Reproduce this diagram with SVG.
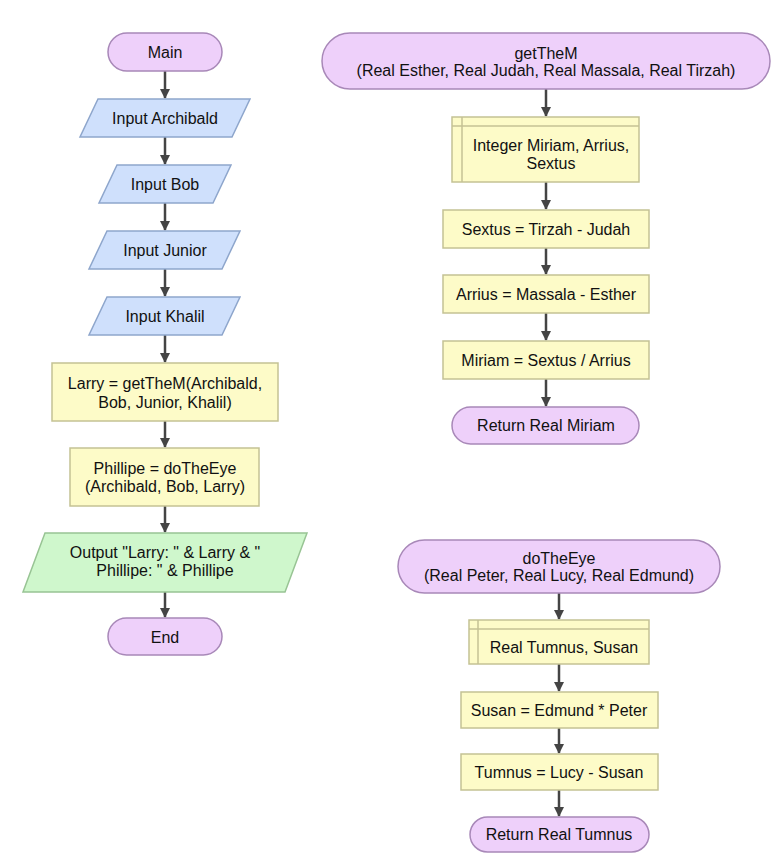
<svg xmlns="http://www.w3.org/2000/svg" width="778" height="868" viewBox="0 0 778 868">
<style>
text{font-family:"Liberation Sans",Arial,sans-serif;font-size:16px;fill:#111;text-anchor:middle;dominant-baseline:central}
.term{fill:#eed0fa;stroke:#a888b8;stroke-width:1.5}
.inp{fill:#cfe0fc;stroke:#8ea6cc;stroke-width:1.5}
.proc{fill:#fdfbc8;stroke:#c4c294;stroke-width:1.5}
.outp{fill:#cff7cc;stroke:#98c494;stroke-width:1.5}
.edge{stroke:#444;stroke-width:2.5;fill:none;marker-end:url(#ah)}
</style>
<defs>
<marker id="ah" viewBox="0 0 10 10" refX="9" refY="5" markerWidth="4" markerHeight="4" orient="auto" markerUnits="strokeWidth">
<path d="M0,0 L10,5 L0,10 z" fill="#444"/>
</marker>
</defs>
<rect width="778" height="868" fill="#fff"/>
<g id="connectors">
<line class="edge" x1="165" y1="71" x2="165" y2="98"/>
<line class="edge" x1="165" y1="137" x2="165" y2="164"/>
<line class="edge" x1="165" y1="203" x2="165" y2="230"/>
<line class="edge" x1="165" y1="269" x2="165" y2="296"/>
<line class="edge" x1="165" y1="335" x2="165" y2="362"/>
<line class="edge" x1="165" y1="421" x2="165" y2="447"/>
<line class="edge" x1="165" y1="506" x2="165" y2="532"/>
<line class="edge" x1="165" y1="592" x2="165" y2="617"/>
<line class="edge" x1="546" y1="89" x2="546" y2="116"/>
<line class="edge" x1="546" y1="182" x2="546" y2="209"/>
<line class="edge" x1="546" y1="248" x2="546" y2="274"/>
<line class="edge" x1="546" y1="313" x2="546" y2="340"/>
<line class="edge" x1="546" y1="379" x2="546" y2="406"/>
<line class="edge" x1="559" y1="593" x2="559" y2="619"/>
<line class="edge" x1="559" y1="664" x2="559" y2="691"/>
<line class="edge" x1="559" y1="728" x2="559" y2="753"/>
<line class="edge" x1="559" y1="790" x2="559" y2="816"/>
</g>
<g id="main">
<rect class="term" x="108" y="33" width="114" height="38" rx="19"/>
<text x="165" y="52">Main</text>
</g>
<g id="inArchibald">
<polygon class="inp" points="98,99 250,99 232,137 80,137"/>
<text x="165" y="118">Input Archibald</text>
</g>
<g id="inBob">
<polygon class="inp" points="117,165 231,165 213,203 99,203"/>
<text x="165" y="184">Input Bob</text>
</g>
<g id="inJunior">
<polygon class="inp" points="107,231 240,231 222,269 89,269"/>
<text x="165" y="250">Input Junior</text>
</g>
<g id="inKhalil">
<polygon class="inp" points="107,297 240,297 222,335 89,335"/>
<text x="165" y="316">Input Khalil</text>
</g>
<g id="larry">
<rect class="proc" x="52" y="363" width="226" height="58"/>
<text x="165" y="383">Larry = getTheM(Archibald,</text>
<text x="165" y="402">Bob, Junior, Khalil)</text>
</g>
<g id="phillipe">
<rect class="proc" x="70" y="448" width="189" height="58"/>
<text x="165" y="468">Phillipe = doTheEye</text>
<text x="165" y="486">(Archibald, Bob, Larry)</text>
</g>
<g id="output">
<polygon class="outp" points="45,533 307,533 285,592 23,592"/>
<text x="165" y="552">Output "Larry: " &amp; Larry &amp; "</text>
<text x="165" y="570">Phillipe: " &amp; Phillipe</text>
</g>
<g id="end">
<rect class="term" x="108" y="618" width="114" height="37" rx="18.5"/>
<text x="165" y="637">End</text>
</g>
<g id="getTheM">
<rect class="term" x="322" y="33" width="448" height="56" rx="28"/>
<text x="546" y="53">getTheM</text>
<text x="546" y="70">(Real Esther, Real Judah, Real Massala, Real Tirzah)</text>
</g>
<g id="declM">
<rect class="proc" x="452" y="117" width="187" height="65"/>
<line x1="452" y1="126" x2="639" y2="126" stroke="#c4c294" stroke-width="1.5"/>
<line x1="462" y1="117" x2="462" y2="182" stroke="#c4c294" stroke-width="1.5"/>
<text x="551" y="145">Integer Miriam, Arrius,</text>
<text x="551" y="163">Sextus</text>
</g>
<g id="sextus">
<rect class="proc" x="443" y="210" width="206" height="38"/>
<text x="546" y="229">Sextus = Tirzah - Judah</text>
</g>
<g id="arrius">
<rect class="proc" x="443" y="275" width="206" height="38"/>
<text x="546" y="294">Arrius = Massala - Esther</text>
</g>
<g id="miriam">
<rect class="proc" x="443" y="341" width="206" height="38"/>
<text x="546" y="360">Miriam = Sextus / Arrius</text>
</g>
<g id="retMiriam">
<rect class="term" x="452" y="407" width="187" height="37" rx="18.5"/>
<text x="546" y="425">Return Real Miriam</text>
</g>
<g id="doTheEye">
<rect class="term" x="398" y="540" width="322" height="53" rx="26.5"/>
<text x="559" y="558">doTheEye</text>
<text x="559" y="575">(Real Peter, Real Lucy, Real Edmund)</text>
</g>
<g id="declE">
<rect class="proc" x="469" y="620" width="180" height="44"/>
<line x1="469" y1="629" x2="649" y2="629" stroke="#c4c294" stroke-width="1.5"/>
<line x1="478" y1="620" x2="478" y2="664" stroke="#c4c294" stroke-width="1.5"/>
<text x="564" y="647">Real Tumnus, Susan</text>
</g>
<g id="susan">
<rect class="proc" x="461" y="692" width="197" height="36"/>
<text x="559" y="710">Susan = Edmund * Peter</text>
</g>
<g id="tumnus">
<rect class="proc" x="461" y="754" width="197" height="36"/>
<text x="559" y="772">Tumnus = Lucy - Susan</text>
</g>
<g id="retTumnus">
<rect class="term" x="470" y="817" width="179" height="35" rx="17.5"/>
<text x="559" y="834">Return Real Tumnus</text>
</g>
</svg>
